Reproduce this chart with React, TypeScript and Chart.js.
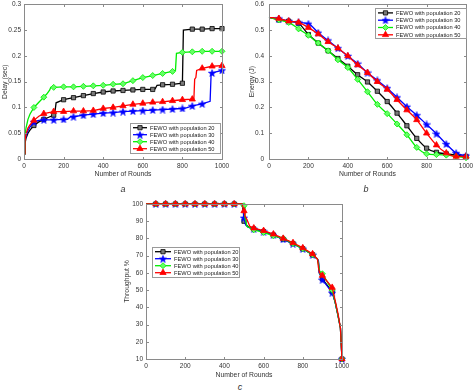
import React, { useEffect, useRef } from 'react';
import { Chart, registerables } from 'chart.js';
import { drawPoint } from 'chart.js/helpers';

Chart.register(...registerables);

// ---------- DATA ----------
const LABELS = ['FEWO with population 20', 'FEWO with population 30', 'FEWO with population 40', 'FEWO with population 50'];
const ROUND_TICKS = [0, 200, 400, 600, 800, 1000];
const DELAY_TICKS = [0, 0.05, 0.1, 0.15, 0.2, 0.25, 0.3];
const ENERGY_TICKS = [0, 0.1, 0.2, 0.3, 0.4, 0.5, 0.6];
const THROUGHPUT_TICKS = [10, 20, 30, 40, 50, 60, 70, 80, 90, 100];

// (a) Delay
const DELAY20_X = [0, 5, 10, 20, 30, 50, 75, 100, 125, 150, 156, 162, 200, 250, 300, 350, 400, 450, 500, 550, 600, 650, 662, 672, 700, 750, 800, 805, 850, 900, 950, 1000];
const DELAY20_Y = [0.01, 0.03, 0.04, 0.05, 0.056, 0.065, 0.072, 0.077, 0.081, 0.085, 0.09, 0.109, 0.115, 0.119, 0.123, 0.127, 0.13, 0.132, 0.133, 0.134, 0.135, 0.135, 0.136, 0.143, 0.144, 0.145, 0.147, 0.25, 0.252, 0.252, 0.253, 0.253];
const DELAY30_X = [0, 5, 10, 20, 30, 50, 75, 100, 150, 200, 220, 235, 250, 300, 350, 400, 450, 500, 550, 600, 650, 700, 750, 800, 820, 850, 900, 940, 945, 950, 1000];
const DELAY30_Y = [0.01, 0.035, 0.045, 0.055, 0.062, 0.072, 0.075, 0.076, 0.076, 0.077, 0.077, 0.082, 0.082, 0.085, 0.087, 0.089, 0.09, 0.092, 0.093, 0.094, 0.095, 0.096, 0.097, 0.098, 0.099, 0.103, 0.107, 0.112, 0.165, 0.167, 0.172];
const DELAY40_X = [0, 5, 10, 20, 30, 50, 75, 100, 115, 130, 135, 150, 200, 250, 300, 350, 400, 450, 500, 550, 600, 650, 700, 750, 765, 770, 800, 850, 900, 950, 1000];
const DELAY40_Y = [0.01, 0.045, 0.06, 0.077, 0.087, 0.1, 0.11, 0.12, 0.126, 0.134, 0.139, 0.139, 0.14, 0.14, 0.141, 0.142, 0.143, 0.145, 0.146, 0.152, 0.158, 0.162, 0.166, 0.17, 0.172, 0.205, 0.207, 0.208, 0.209, 0.209, 0.209];
const DELAY50_X = [0, 5, 10, 20, 30, 50, 75, 100, 150, 200, 250, 300, 350, 400, 450, 500, 550, 600, 650, 700, 750, 800, 850, 858, 862, 868, 872, 900, 950, 1000];
const DELAY50_Y = [0.01, 0.035, 0.048, 0.06, 0.066, 0.075, 0.083, 0.088, 0.092, 0.092, 0.093, 0.093, 0.094, 0.098, 0.1, 0.103, 0.106, 0.108, 0.11, 0.111, 0.113, 0.115, 0.116, 0.117, 0.155, 0.158, 0.172, 0.176, 0.18, 0.181];

// (b) Energy
const ENERGY_X = [0, 50, 100, 150, 200, 250, 300, 350, 400, 450, 500, 550, 600, 650, 700, 750, 800, 850, 900, 950, 1000];
const ENERGY20 = [0.55, 0.54, 0.535, 0.527, 0.483, 0.45, 0.42, 0.39, 0.36, 0.327, 0.299, 0.263, 0.223, 0.178, 0.129, 0.08, 0.042, 0.026, 0.02, 0.015, 0.01];
const ENERGY30 = [0.55, 0.545, 0.535, 0.53, 0.525, 0.49, 0.46, 0.43, 0.4, 0.37, 0.335, 0.305, 0.275, 0.239, 0.203, 0.17, 0.134, 0.098, 0.058, 0.023, 0.013];
const ENERGY40 = [0.55, 0.54, 0.53, 0.505, 0.48, 0.45, 0.42, 0.385, 0.355, 0.309, 0.261, 0.212, 0.176, 0.136, 0.094, 0.045, 0.02, 0.017, 0.015, 0.01, 0.005];
const ENERGY50 = [0.55, 0.545, 0.535, 0.53, 0.51, 0.485, 0.455, 0.43, 0.4, 0.365, 0.335, 0.3, 0.27, 0.23, 0.19, 0.152, 0.1, 0.054, 0.023, 0.01, 0.01];

// (c) Throughput
const TP20_X = [0, 50, 100, 150, 200, 250, 300, 350, 400, 450, 490, 497, 500, 510, 525, 550, 600, 650, 700, 750, 800, 850, 875, 880, 884, 900, 950, 965, 980, 992, 1000];
const TP20_Y = [100, 100, 100, 100, 100, 100, 100, 100, 100, 100, 100, 95, 90, 88, 86.5, 85.5, 84, 82, 79.5, 77, 74, 70.5, 68, 66, 60, 56.5, 49, 43, 35, 28, 10];
const TP30_X = [0, 50, 100, 150, 200, 250, 300, 350, 400, 450, 490, 497, 500, 508, 520, 550, 600, 650, 700, 750, 800, 850, 875, 880, 884, 900, 950, 965, 980, 992, 1000];
const TP30_Y = [100, 100, 100, 100, 100, 100, 100, 100, 100, 100, 100, 97, 92, 88, 86.5, 85.5, 84, 82, 79.5, 77, 74, 70.5, 68, 67, 60, 56, 48.5, 43, 35, 28, 10];
const TP40_X = [0, 50, 100, 150, 200, 250, 300, 350, 400, 450, 490, 500, 505, 515, 550, 600, 650, 700, 750, 800, 850, 875, 880, 886, 900, 950, 965, 980, 992, 1000];
const TP40_Y = [100, 100, 100, 100, 100, 100, 100, 100, 100, 100, 100, 99, 92, 87, 85, 83.5, 81.5, 80, 77, 74, 70.5, 68, 65, 61, 59.5, 50, 43, 35, 28, 10];
const TP50_X = [0, 50, 100, 150, 200, 250, 300, 350, 400, 450, 490, 500, 505, 515, 530, 550, 600, 650, 700, 750, 800, 850, 875, 880, 886, 900, 950, 965, 980, 992, 1000];
const TP50_Y = [100, 100, 100, 100, 100, 100, 100, 100, 100, 100, 100, 96, 93, 91, 87, 86, 84.5, 82.5, 80, 77.5, 74.5, 71, 68, 63, 60, 58.5, 51.5, 44, 36, 28, 10];

// ---------- STYLE ----------
const FONT = "'Liberation Sans', Arial, Helvetica, sans-serif";
const TXT = '#333';
const AXIS = '#8a8a8a';
Chart.defaults.font.family = FONT;

function makeStar(color: string) {
  const c = document.createElement('canvas');
  const s = 8;
  c.width = s; c.height = s;
  const g = c.getContext('2d')!;
  g.beginPath();
  for (let i = 0; i < 10; i++) {
    const r = i % 2 === 0 ? 3.8 : 1.6;
    const a = -Math.PI / 2 + (i * Math.PI) / 5;
    const x = s / 2 + r * Math.cos(a);
    const y = s / 2 + 0.4 + r * Math.sin(a);
    if (i) g.lineTo(x, y); else g.moveTo(x, y);
  }
  g.closePath();
  g.fillStyle = color; g.fill();
  g.strokeStyle = color; g.lineWidth = 0.6; g.stroke();
  return c;
}

type Style = { color: string; fill: string; style: any; radius: number };
function styles(): Style[] {
  return [
    { color: '#000000', fill: '#7a7a7a', style: 'rect', radius: 3 },
    { color: '#0000ff', fill: '#0000ff', style: makeStar('#0000ff'), radius: 3 },
    { color: '#00ee00', fill: '#66ff66', style: 'rectRot', radius: 3 },
    { color: '#ff0000', fill: '#ff0000', style: 'triangle', radius: 3.6 },
  ];
}

function dataset(label: string, xs: number[], ys: number[], st: Style, order: number, smooth: boolean) {
  return {
    label,
    data: xs.map((x, i) => ({ x, y: ys[i] })),
    borderColor: st.color,
    backgroundColor: st.fill,
    pointBackgroundColor: st.fill,
    pointBorderColor: st.color,
    pointBorderWidth: 0.8,
    pointStyle: st.style,
    pointRadius: (c: any) => (c.raw && c.raw.x > 0 && c.raw.x % 50 === 0 ? st.radius : 0),
    pointHoverRadius: 0,
    borderWidth: 1.3,
    tension: smooth ? 0.3 : 0,
    cubicInterpolationMode: smooth ? 'monotone' : 'default',
    order,
    clip: false,
    legendRadius: st.radius,
  };
}

const framePlugin = {
  id: 'frame',
  afterDraw(chart: any, _args: any, opts: any) {
    const { ctx, chartArea: a, scales } = chart;
    ctx.save();
    const L = Math.round(a.left) + 0.5, R = Math.round(a.right) + 0.5;
    const T = Math.round(a.top) + 0.5, B = Math.round(a.bottom) + 0.5;
    ctx.strokeStyle = AXIS;
    ctx.lineWidth = 1;
    ctx.strokeRect(L, T, R - L, B - T);
    const tl = 2.5;
    ctx.beginPath();
    for (const t of scales.x.ticks) {
      const px = Math.round(scales.x.getPixelForValue(t.value)) + 0.5;
      ctx.moveTo(px, B); ctx.lineTo(px, B - tl);
      ctx.moveTo(px, T); ctx.lineTo(px, T + tl);
    }
    for (const t of scales.y.ticks) {
      const py = Math.round(scales.y.getPixelForValue(t.value)) + 0.5;
      ctx.moveTo(L, py); ctx.lineTo(L + tl, py);
      ctx.moveTo(R, py); ctx.lineTo(R - tl, py);
    }
    ctx.stroke();

    // legend box
    const lg = opts.legend;
    const bx = lg.right !== undefined ? a.right - lg.right - lg.width : a.left + lg.left;
    const by = lg.bottom !== undefined ? a.bottom - lg.bottom - lg.height : a.top + lg.top;
    ctx.fillStyle = '#ffffff';
    ctx.fillRect(bx, by, lg.width, lg.height);
    ctx.strokeStyle = '#9a9a9a';
    ctx.strokeRect(Math.round(bx) + 0.5, Math.round(by) + 0.5, lg.width, lg.height);
    chart.data.datasets.forEach((ds: any, i: number) => {
      const y = by + lg.firstRow + i * lg.rowGap;
      ctx.strokeStyle = ds.borderColor;
      ctx.lineWidth = ds.borderWidth;
      ctx.beginPath();
      ctx.moveTo(bx + lg.lineStart, y);
      ctx.lineTo(bx + lg.lineEnd, y);
      ctx.stroke();
      ctx.fillStyle = ds.pointBackgroundColor;
      ctx.strokeStyle = ds.pointBorderColor;
      ctx.lineWidth = 0.8;
      drawPoint(ctx, { pointStyle: ds.pointStyle, radius: ds.legendRadius, rotation: 0, borderWidth: 0.8 } as any,
        bx + (lg.lineStart + lg.lineEnd) / 2, y);
      ctx.fillStyle = '#222';
      ctx.font = `${lg.fontSize}px ${FONT}`;
      ctx.textBaseline = 'middle';
      ctx.textAlign = 'left';
      ctx.fillText(ds.label, bx + lg.textX, y + 0.3);
    });
    ctx.restore();
  },
};

type PanelSpec = {
  datasets: any[];
  yTicks: number[];
  yMin: number;
  yMax: number;
  yTitle: string;
  yWidth: number;
  yTickPad: number;
  yTitlePad: number;
  xTitlePad: number;
  padTop: number;
  padRight: number;
  legend: any;
};

function buildConfig(p: PanelSpec): any {
  return {
    type: 'line',
    data: { datasets: p.datasets },
    plugins: [framePlugin],
    options: {
      responsive: false,
      animation: false,
      events: [],
      layout: { padding: { top: p.padTop, right: p.padRight, left: 0, bottom: 0 } },
      plugins: {
        legend: { display: false },
        tooltip: { enabled: false },
        frame: { legend: p.legend },
      },
      scales: {
        x: {
          type: 'linear', min: 0, max: 1000,
          afterBuildTicks: (sc: any) => { sc.ticks = ROUND_TICKS.map((v) => ({ value: v })); },
          afterFit: (sc: any) => { sc.height = 23; sc.paddingLeft = 0; sc.paddingRight = 0; },
          grid: { display: false, drawTicks: false },
          border: { display: false },
          ticks: { autoSkip: false, maxRotation: 0, padding: 3, color: TXT, font: { size: 6.5 }, callback: (v: number) => String(v) },
          title: { display: true, text: 'Number of Rounds', color: TXT, font: { size: 6.8 }, padding: { top: 0, bottom: p.xTitlePad } },
        },
        y: {
          type: 'linear', min: p.yMin, max: p.yMax,
          afterBuildTicks: (sc: any) => { sc.ticks = p.yTicks.map((v) => ({ value: v })); },
          afterFit: (sc: any) => { sc.width = p.yWidth; sc.paddingTop = 0; sc.paddingBottom = 0; },
          grid: { display: false, drawTicks: false },
          border: { display: false },
          ticks: { autoSkip: false, padding: p.yTickPad, color: TXT, font: { size: 6.5 }, callback: (v: number) => String(v) },
          title: { display: true, text: p.yTitle, color: TXT, font: { size: 6.8 }, padding: { top: p.yTitlePad, bottom: 0 } },
        },
      },
    },
  };
}

function Panel({ left, top, width, height, spec }: { left: number; top: number; width: number; height: number; spec: () => PanelSpec }) {
  const ref = useRef<HTMLCanvasElement>(null);
  useEffect(() => {
    if (!ref.current) return;
    const chart = new Chart(ref.current, buildConfig(spec()));
    return () => chart.destroy();
  }, []);
  return (
    <canvas ref={ref} width={width} height={height}
      style={{ position: 'absolute', left, top, width, height, display: 'block' }} />
  );
}

const delaySpec = (): PanelSpec => {
  const st = styles();
  return {
    datasets: [
      dataset(LABELS[0], DELAY20_X, DELAY20_Y, st[0], 3, false),
      dataset(LABELS[1], DELAY30_X, DELAY30_Y, st[1], 2, false),
      dataset(LABELS[2], DELAY40_X, DELAY40_Y, st[2], 1, false),
      dataset(LABELS[3], DELAY50_X, DELAY50_Y, st[3], 0, false),
    ],
    yTicks: DELAY_TICKS, yMin: 0, yMax: 0.3, yTitle: 'Delay (sec)',
    yWidth: 24, yTickPad: 3, yTitlePad: 1, xTitlePad: 4, padTop: 3, padRight: 15,
    legend: { right: 2, bottom: 6, width: 90, height: 30, firstRow: 4.7, rowGap: 7, lineStart: 3, lineEnd: 17, textX: 20, fontSize: 5.7 },
  };
};

const energySpec = (): PanelSpec => {
  const st = styles();
  return {
    datasets: [
      dataset(LABELS[0], ENERGY_X, ENERGY20, st[0], 3, true),
      dataset(LABELS[1], ENERGY_X, ENERGY30, st[1], 2, true),
      dataset(LABELS[2], ENERGY_X, ENERGY40, st[2], 1, true),
      dataset(LABELS[3], ENERGY_X, ENERGY50, st[3], 0, true),
    ],
    yTicks: ENERGY_TICKS, yMin: 0, yMax: 0.6, yTitle: 'Energy (J)',
    yWidth: 32, yTickPad: 5, yTitlePad: 11, xTitlePad: 4, padTop: 3, padRight: 8,
    legend: { right: 0, top: 4, width: 91, height: 30, firstRow: 4.5, rowGap: 7.3, lineStart: 3, lineEnd: 18, textX: 21, fontSize: 5.7 },
  };
};

const throughputSpec = (): PanelSpec => {
  const st = styles();
  return {
    datasets: [
      dataset(LABELS[0], TP20_X, TP20_Y, st[0], 3, false),
      dataset(LABELS[1], TP30_X, TP30_Y, st[1], 2, false),
      dataset(LABELS[2], TP40_X, TP40_Y, st[2], 1, false),
      dataset(LABELS[3], TP50_X, TP50_Y, st[3], 0, false),
    ],
    yTicks: THROUGHPUT_TICKS, yMin: 10, yMax: 100, yTitle: 'Throughput %',
    yWidth: 36, yTickPad: 3, yTitlePad: 13, xTitlePad: 3, padTop: 12, padRight: 28,
    legend: { left: 6, top: 43, width: 87, height: 30, firstRow: 4.7, rowGap: 7, lineStart: 3, lineEnd: 19, textX: 22, fontSize: 5.7 },
  };
};

const letterStyle = (left: number, top: number): React.CSSProperties => ({
  position: 'absolute', left, top, transform: 'translate(-50%, -50%)',
  font: `italic 9px ${FONT}`, color: TXT,
});

export default function App() {
  return (
    <div style={{ position: 'fixed', left: 0, top: 0, width: 474, height: 392, background: '#fff', overflow: 'hidden' }}>
      <Panel left={0} top={0} width={237} height={182} spec={delaySpec} />
      <Panel left={237} top={0} width={237} height={182} spec={energySpec} />
      <Panel left={110} top={192} width={260} height={190} spec={throughputSpec} />
      <div style={letterStyle(123, 189)}>a</div>
      <div style={letterStyle(366, 189)}>b</div>
      <div style={letterStyle(240, 387)}>c</div>
    </div>
  );
}
